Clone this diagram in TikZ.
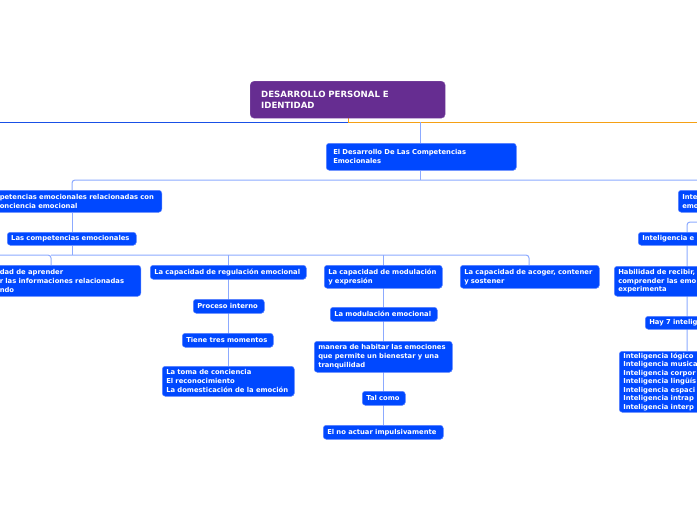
\documentclass[tikz,border=0pt]{standalone}
\usepackage{fontspec}
\setmainfont{DejaVu Sans}
\usetikzlibrary{backgrounds}
\definecolor{nodeblue}{RGB}{0,72,255}
\definecolor{nodeedge}{RGB}{90,130,255}
\definecolor{rootpurple}{RGB}{102,45,145}
\definecolor{linkblue}{RGB}{140,170,255}
\definecolor{leftblue}{RGB}{25,80,230}
\definecolor{rightorange}{RGB}{245,160,20}
\tikzset{
  nb/.style={rectangle, rounded corners=3pt, fill=nodeblue, draw=nodeedge, line width=0.5pt,
    text=white, font=\bfseries\fontsize{6.8}{8.8}\selectfont, align=left,
    inner xsep=4pt, inner ysep=1pt, anchor=north west},
  rootbox/.style={rectangle, rounded corners=4pt, fill=rootpurple, draw=rootpurple!80!white,
    text=white, font=\bfseries\fontsize{8.6}{11.5}\selectfont, align=left,
    inner xsep=11pt, inner ysep=1pt, anchor=north west},
  link/.style={draw=linkblue, line width=1pt, rounded corners=3pt},
}
\begin{document}
\begin{tikzpicture}[x=1pt,y=-1pt]
\useasboundingbox (0,0) rectangle (697,520);
\begin{scope}
\clip (0,0) rectangle (697,520);
\node[rootbox, text width=173pt, minimum height=37pt] (root) at (250,81) {DESARROLLO PERSONAL E\\IDENTIDAD};
\node[nb, inner xsep=7pt, text width=176pt, minimum height=27pt] (desa) at (326,143) {El Desarrollo De Las Competencias\\Emocionales};
\node[nb, anchor=north east, text width=158pt, minimum height=22pt] (comp) at (162,190) {petencias emocionales relacionadas con\\onciencia emocional};
\node[nb, text width=121pt, minimum height=13pt] (lasc) at (7,232) {Las competencias emocionales};
\node[nb, anchor=north east, text width=137pt, minimum height=31pt] (apre) at (141,265) {dad de aprender\\r las informaciones relacionadas\\ndo};
\node[nb, text width=148pt, minimum height=14pt] (regu) at (150,265) {La capacidad de regulación emocional};
\node[nb, text width=110pt, minimum height=23pt] (modu) at (324,265) {La capacidad de modulación\\y expresión};
\node[nb, text width=131pt, minimum height=23pt] (acog) at (460,265) {La capacidad de acoger, contener\\y sostener};
\node[nb, text width=63pt, minimum height=14pt] (proc) at (193,299) {Proceso interno};
\node[nb, text width=83pt, minimum height=14pt] (tien) at (182,333) {Tiene tres momentos};
\node[nb, text width=124pt, minimum height=30pt] (toma) at (162,366) {La toma de conciencia\\El reconocimiento\\La domesticación de la emoción};
\node[nb, text width=99pt, minimum height=14pt] (mode) at (330,307) {La modulación emocional};
\node[nb, text width=130pt, minimum height=31pt] (mane) at (314,341) {manera de habitar las emociones\\que permite un bienestar y una\\tranquilidad};
\node[nb, text width=35pt, minimum height=14pt] (talc) at (362,391) {Tal como};
\node[nb, text width=112pt, minimum height=14pt] (noac) at (323,425) {El no actuar impulsivamente};
\node[nb, text width=40pt, minimum height=22pt] (inte) at (678,190) {Inte\\emo};
\node[nb, text width=80pt, minimum height=13pt] (intb) at (638,232) {Inteligencia e};
\node[nb, text width=100pt, minimum height=30pt] (habi) at (614,266) {Habilidad de recibir,\\comprender las emo\\experimenta};
\node[nb, text width=80pt, minimum height=13pt] (hay7) at (645,316) {Hay 7 intelig};
\node[nb, text width=100pt, minimum height=61pt, font=\bfseries\fontsize{6.8}{8.5}\selectfont] (list) at (619,351) {Inteligencia lógico\\Inteligencia musica\\Inteligencia corpor\\Inteligencia lingüís\\Inteligencia espaci\\Inteligencia intrap\\Inteligencia interp};
\end{scope}
\begin{pgfonlayer}{background}
\clip (0,0) rectangle (697,520);
\coordinate (lend) at (0,122);
\coordinate (rend) at (700,122);
\coordinate (bar1) at (72,180);
\coordinate (bar1r) at (700,180);
\coordinate (bar2l) at (0,255);
\coordinate (bar3) at (687,222);
\coordinate (bar3r) at (700,222);
\draw[rightorange, line width=1pt] (root.south -| 348,0) -- (348,122) -- (rend);
\draw[leftblue, line width=1pt] (348,122) -- (lend);
\draw[link] (desa.north -| 420,0) ++(0,-21) -- (desa.north -| 420,0);
\draw[link] (desa.south -| 420,0) -- (420,180);
\draw[link] (bar1r) -- (bar1) -- (comp.north -| bar1);
\draw[link] (comp.south -| bar1) -- (lasc.north -| bar1);
\draw[link] (lasc.south -| bar1) -- (72,255);
\draw[link] (bar2l) -- (51,255) -- (apre.north -| 51,0);
\draw[link] (51,255) -- (529,255) -- (acog.north -| 529,0);
\draw[link] (228,255) -- (toma.north -| 228,0);
\draw[link] (383,255) -- (noac.north -| 383,0);
\draw[link] (bar3r) -- (bar3) -- (list.north -| bar3);
\end{pgfonlayer}
\end{tikzpicture}
\end{document}
